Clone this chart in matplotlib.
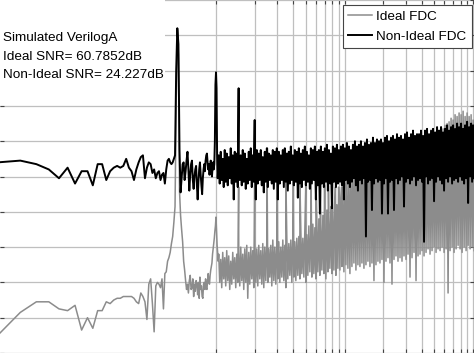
import matplotlib.pyplot as plt
import numpy as np
from matplotlib.patches import Rectangle
from matplotlib.ticker import NullLocator

plt.rcParams['font.family'] = ['Liberation Sans', 'DejaVu Sans']
plt.rcParams['path.simplify'] = False  # keep every zigzag of the dense floor

# output spectrum in dB, FFT bins 2..104 (one value per bin)
nonideal_low = [-92, -91, -93, -96, -101, -95, -104, -97, -97, -105,
                -93, -93, -102, -97, -95, -94, -95, -94, -90, -95,
                -97, -102, -96, -92, -89, -88, -101, -95, -92, -93,
                -98, -96, -101, -98, -97, -102, -99, -98, -104, -96,
                -91, -90, -92, -93, -92, -90, -88, -40, -16, -25,
                -85, -109, -101, -93, -92, -102, -97, -91, -86, -96,
                -108, -99, -93, -91, -102, -107, -100, -96, -94, -105,
                -113, -103, -96, -92, -99, -105, -110, -101, -96, -93,
                -97, -91, -88, -87, -92, -96, -93, -99, -95, -91,
                -97, -100, -95, -92, -96, -93, -80, -48, -41, -50,
                -88, -101, -96]
ideal_low = [-190, -177, -171, -171, -175, -176, -173, -187, -180, -186,
             -176, -176, -171, -172, -170, -169, -169, -168, -168, -168,
             -168, -169, -171, -172, -166, -168, -171, -181, -161, -158,
             -172, -188, -162, -160, -161, -163, -158, -175, -155, -154,
             -148, -146, -143, -138, -134, -126, -117, -57, -17, -31,
             -108, -122, -130, -137, -148, -153, -159, -164, -161, -166,
             -159, -156, -164, -163, -158, -168, -161, -165, -159, -161,
             -167, -160, -169, -157, -164, -162, -168, -169, -161, -160,
             -164, -158, -163, -164, -159, -155, -160, -161, -156, -153,
             -151, -149, -144, -141, -138, -135, -131, -128, -123, -131,
             -139, -143, -148]

# above bin 104 the floor is too dense to read per bin: peaks and troughs
nonideal_hi = [-88, -86, -90, -85, -87, -89, -84, -88, -86, -87,
               -86, -88, -85, -87, -90, -86, -84, -88, -87, -85,
               -87, -85, -89, -86, -84, -87, -88, -85, -86, -84,
               -86, -88, -85, -84, -87, -86, -83, -88, -85, -86,
               -84, -87, -85, -83, -86, -88, -84, -85, -83, -86,
               -85, -83, -86, -84, -82, -85, -87, -83, -84, -82,
               -85, -83, -82, -84, -81, -83, -85, -82, -80, -83,
               -82, -80, -83, -81, -79, -82, -81, -78, -81, -79,
               -80, -79, -81, -78, -77, -80, -78, -77, -79, -76,
               -78, -77, -79, -76, -75, -78, -76, -74, -77, -76,
               -76, -74, -77, -74, -73, -76, -74, -73, -75, -72,
               -74, -72, -75, -73, -71, -74, -72, -71, -73, -70,
               -72, -70, -73, -71, -69, -72, -70, -71]
nonideal_lo = [-104, -102, -106, -103, -105, -101, -104, -113, -103, -106,
               -102, -105, -103, -107, -104, -102, -106, -103, -113, -104,
               -102, -105, -109, -103, -106, -102, -104, -107, -103, -113,
               -104, -102, -106, -103, -108, -104, -102, -105, -103, -112,
               -104, -106, -102, -105, -103, -107, -104, -102, -113, -105,
               -121, -104, -106, -103, -108, -104, -118, -103, -106, -104,
               -103, -105, -113, -102, -104, -106, -103, -101, -105, -108,
               -102, -104, -101, -134, -103, -102, -119, -104, -101, -103,
               -102, -121, -104, -101, -121, -103, -102, -119, -101, -104,
               -102, -100, -117, -103, -101, -104, -102, -100, -105, -102,
               -101, -103, -137, -100, -104, -102, -101, -114, -103, -100,
               -102, -104, -108, -101, -103, -100, -104, -102, -101, -103,
               -100, -102, -104, -101, -115, -100, -103, -101]
ideal_hi = [-144, -147, -143, -146, -142, -145, -148, -143, -146, -144,
            -143, -140, -144, -141, -139, -143, -140, -142, -138, -141,
            -139, -142, -138, -140, -137, -141, -139, -136, -140, -138,
            -137, -140, -136, -139, -135, -138, -136, -134, -137, -135,
            -134, -131, -135, -130, -133, -128, -131, -127, -129, -126,
            -124, -127, -122, -125, -119, -122, -117, -120, -114, -116,
            -110, -112, -106, -104, -100, -98, -96, -95, -93, -94,
            -92, -93, -90, -91, -89, -90, -88, -89, -87, -88,
            -86, -87, -85, -86, -84, -85, -83, -84, -82, -83,
            -82, -83, -81, -82, -80, -81, -79, -80, -78, -79,
            -80, -79, -78, -79, -77, -78, -76, -75, -76, -74,
            -74, -72, -73, -71, -70, -69, -67, -68, -65, -66,
            -64, -65, -63, -66, -64, -66, -65, -68]
ideal_lo = [-160, -163, -158, -162, -159, -164, -161, -158, -163, -160,
            -162, -159, -164, -160, -169, -161, -158, -163, -160, -162,
            -158, -161, -163, -159, -160, -157, -162, -159, -161, -158,
            -160, -157, -159, -163, -158, -156, -160, -157, -159, -156,
            -158, -155, -157, -160, -156, -154, -157, -155, -158, -154,
            -156, -153, -155, -158, -154, -152, -155, -153, -156, -152,
            -153, -151, -154, -150, -152, -155, -151, -149, -153, -150,
            -151, -149, -152, -150, -148, -151, -149, -159, -150, -148,
            -149, -147, -160, -148, -146, -149, -161, -147, -145, -148,
            -146, -148, -145, -147, -144, -157, -146, -143, -159, -145,
            -144, -142, -145, -143, -141, -144, -142, -140, -143, -141,
            -142, -140, -143, -141, -166, -142, -140, -143, -141, -139,
            -141, -143, -140, -142, -139, -141, -140, -142]

# harmonics of the bin-50 tone
ideal_harm_bins = [150, 200, 250, 300, 350, 400, 450, 500, 550,
                   600, 650, 700, 750, 800, 850, 900, 950]
ideal_harm = [-106, -100, -101, -101, -102, -102, -103, -103, -104,
              -104, -104, -105, -105, -105, -106, -106, -106]
nonideal_harm_bins = [150, 200, 250]
nonideal_harm = [-50, -68, -84]

labels = ['Ideal FDC', 'Non-Ideal FDC']
notes = ['Simulated VerilogA', 'Ideal SNR= 60.7852dB', 'Non-Ideal SNR= 24.227dB']


def spectrum(low, hi, lo, hbins, hvals):
    k_low = np.arange(2, 2 + len(low))
    k_dense = np.geomspace(k_low[-1] + 1, 10200, 2 * len(hi))
    v_dense = np.empty(2 * len(hi))
    v_dense[0::2] = hi
    v_dense[1::2] = lo
    k = np.concatenate([k_low, k_dense, hbins])
    v = np.concatenate([low, v_dense, hvals])
    order = np.argsort(k, kind='stable')
    return k[order], v[order]


fig = plt.figure(figsize=(4.74, 3.53), dpi=100)
ax = fig.add_axes([0, 0, 1, 1])

k1, v1 = spectrum(ideal_low, ideal_hi, ideal_lo, ideal_harm_bins, ideal_harm)
k2, v2 = spectrum(nonideal_low, nonideal_hi, nonideal_lo, nonideal_harm_bins, nonideal_harm)
ax.plot(k1, v1, color='#8c8c8c', lw=1.1, label=labels[0], zorder=3)
ax.plot(k2, v2, color='black', lw=1.4, label=labels[1], zorder=4)

ax.set_xscale('log')
ax.set_xlim(2.085, 10180)
ax.set_ylim(-200, 0)

xgrid = [m * 10 ** e for e in (2, 3) for m in range(1, 10)] + [10000]
ax.set_xticks(xgrid)
ax.xaxis.set_minor_locator(NullLocator())
ax.set_yticks(np.arange(-200, 1, 20))
ax.set_xticklabels([])
ax.set_yticklabels([])
ax.grid(True, color='#bfbfbf', lw=0.9)
ax.set_axisbelow(True)
ax.tick_params(direction='in', length=3, width=0.8, color='#444444',
               top=True, right=True)
for s in ax.spines.values():
    s.set_visible(False)

ax.add_patch(Rectangle((0, 1 - 86 / 353), 165 / 474, 86 / 353, transform=ax.transAxes,
                       facecolor='white', edgecolor='none', zorder=2))
for i, t in enumerate(notes):
    ax.text(3 / 474, 1 - (38.5 + 18.5 * i) / 353, t, transform=ax.transAxes,
            fontsize=9.7, va='center', ha='left', zorder=5)

leg = ax.legend(loc='upper right', bbox_to_anchor=(472 / 474, 1 - 5 / 353),
                borderaxespad=0, fancybox=False, framealpha=1, edgecolor='#444444',
                fontsize=9.7, handlelength=1.8, handletextpad=0.3,
                labelspacing=0.55, borderpad=0.4)
leg.get_frame().set_linewidth(0.8)
leg.set_zorder(6)

fig.savefig('out.png', dpi=100)
